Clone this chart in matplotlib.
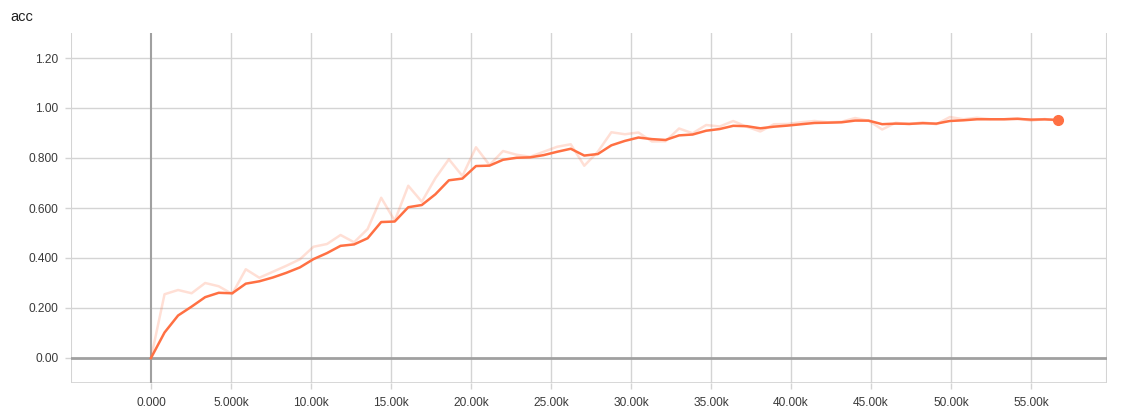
import matplotlib
matplotlib.use("Agg")
import matplotlib.pyplot as plt
import numpy as np

plt.rcParams["font.family"] = ["Liberation Sans", "DejaVu Sans"]

title = "acc"
n_points = 68
last_step = 56700
raw_acc = [0.0, 0.255, 0.272, 0.259, 0.300, 0.287, 0.256, 0.355, 0.321, 0.345,
           0.369, 0.395, 0.445, 0.456, 0.492, 0.463, 0.516, 0.641, 0.549, 0.689,
           0.625, 0.719, 0.795, 0.728, 0.843, 0.772, 0.828, 0.813, 0.805, 0.825,
           0.845, 0.855, 0.769, 0.825, 0.903, 0.895, 0.902, 0.866, 0.867, 0.918,
           0.899, 0.932, 0.926, 0.948, 0.925, 0.906, 0.935, 0.936, 0.943, 0.948,
           0.943, 0.945, 0.960, 0.949, 0.914, 0.941, 0.935, 0.943, 0.935, 0.964,
           0.955, 0.961, 0.955, 0.955, 0.959, 0.949, 0.956, 0.949]
smoothing = 0.6
x_ticks = [0, 5000, 10000, 15000, 20000, 25000, 30000, 35000, 40000, 45000, 50000, 55000]
x_labels = ["0.000", "5.000k", "10.00k", "15.00k", "20.00k", "25.00k", "30.00k",
            "35.00k", "40.00k", "45.00k", "50.00k", "55.00k"]
y_ticks = [0.0, 0.2, 0.4, 0.6, 0.8, 1.0, 1.2]
y_labels = ["0.00", "0.200", "0.400", "0.600", "0.800", "1.00", "1.20"]

steps = np.linspace(0, last_step, n_points)
smoothed = []
last = raw_acc[0]
for v in raw_acc:
    last = last * smoothing + (1 - smoothing) * v
    smoothed.append(last)

color = "#ff7043"
grid_c = "#d4d4d4"
zero_c = "#a0a0a0"
text_c = "#3a3a3a"

fig = plt.figure(figsize=(11.32, 4.13), dpi=100)
ax = fig.add_axes([71 / 1132, 30 / 413, (1107 - 71) / 1132, (383 - 33) / 413])
xlim = (-5000, 59750)
ylim = (-0.1, 1.3)
ax.set_xlim(*xlim)
ax.set_ylim(*ylim)

for s in ax.spines.values():
    s.set_visible(False)

for xt in x_ticks:
    if xt != 0:
        ax.axvline(xt, color=grid_c, lw=1.0, zorder=1)
for yt in y_ticks:
    if yt != 0:
        ax.axhline(yt, color=grid_c, lw=1.0, zorder=1)
ax.axvline(xlim[0], color=grid_c, lw=1.5, zorder=1)
ax.axvline(xlim[1], color=grid_c, lw=1.5, zorder=1)
ax.axhline(ylim[0], color=grid_c, lw=2.0, zorder=1)
ax.axvline(0, color=zero_c, lw=1.5, zorder=2)
ax.axhline(0, color=zero_c, lw=2.0, zorder=2)

ax.plot(steps, raw_acc, color=color, alpha=0.22, lw=1.8, zorder=3,
        solid_joinstyle="round")
ax.plot(steps, smoothed, color=color, lw=1.8, zorder=4, solid_joinstyle="round")
ax.plot(steps[-1:], smoothed[-1:], "o", color=color, ms=7, zorder=5)

ax.set_xticks(x_ticks)
ax.set_xticklabels(x_labels)
ax.set_yticks(y_ticks)
ax.set_yticklabels(y_labels)
ax.tick_params(axis="both", length=4, width=1, color=grid_c, labelcolor=text_c,
               labelsize=8.6, pad=5)
ax.tick_params(axis="x", pad=6)

fig.text(10 / 1132, 1 - 21 / 413, title, fontsize=10.5, color="#212121",
         ha="left", va="baseline")

fig.savefig("out.png", dpi=100, facecolor="white")
